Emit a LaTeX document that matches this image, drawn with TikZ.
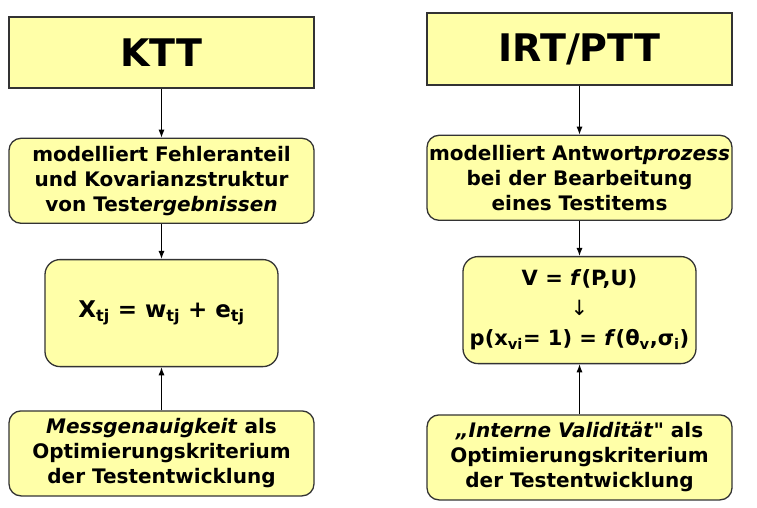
\documentclass[tikz,border=0pt]{standalone}
\usepackage{fontspec}
\setmainfont{DejaVu Sans}
\usetikzlibrary{arrows.meta,positioning}
\definecolor{boxyellow}{HTML}{FFFFA8}
\definecolor{boxline}{HTML}{333333}
\tikzset{
  headbox/.style  = {draw=boxline, line width=1.3pt, fill=boxyellow, minimum width=305pt,
                     minimum height=71pt, inner sep=0pt, font=\fontsize{38}{44}\selectfont\bfseries},
  stepbox/.style  = {draw=boxline, line width=1.3pt, fill=boxyellow, rounded corners=12pt,
                     minimum width=305pt, minimum height=85pt, inner sep=2pt, align=center,
                     font=\fontsize{20}{25}\selectfont\bfseries},
  formbox/.style  = {stepbox, rounded corners=15pt, minimum width=233pt, minimum height=107pt},
  sig/.style      = {-{Latex[length=8pt,width=6pt]}, line width=1pt},
  x=1pt, y=1pt,
}
\begin{document}
\begin{tikzpicture}
  \useasboundingbox (0,0) rectangle (757,-508);
  % KTT column
  \node[headbox] (ktt) at (161.5,-52.5) {KTT};
  \node[stepbox, below=49pt of ktt] (kttmod) {modelliert Fehleranteil\\und Kovarianzstruktur\\von Test\textit{ergebnissen}};
  \node[formbox, below=35pt of kttmod, font=\fontsize{23}{28}\selectfont\bfseries] (kttform) {X\textsubscript{tj} = w\textsubscript{tj} + e\textsubscript{tj}};
  \node[stepbox, below=43pt of kttform] (kttcrit) {\textit{Messgenauigkeit} als\\Optimierungskriterium\\der Testentwicklung};
  \draw[sig] (ktt) -- (kttmod);
  \draw[sig] (kttmod) -- (kttform);
  \draw[sig] (kttcrit) -- (kttform);
  % IRT/PTT column
  \node[headbox, minimum height=72pt] (irt) at (579.5,-49) {IRT/PTT};
  \node[stepbox, below=49pt of irt] (irtmod) {modelliert Antwort\textit{prozess}\\bei der Bearbeitung\\eines Testitems};
  \node[formbox, below=35pt of irtmod, font=\fontsize{21}{30}\selectfont\bfseries] (irtform) {V = \textit{f}(P,U)\\{\mdseries ↓}\\p(x\textsubscript{vi}= 1) = \textit{f}(θ\textsubscript{v},σ\textsubscript{i})};
  \node[stepbox, below=50pt of irtform] (irtcrit) {\textit{„Interne Validität}\textquotedbl{} als\\Optimierungskriterium\\der Testentwicklung};
  \draw[sig] (irt) -- (irtmod);
  \draw[sig] (irtmod) -- (irtform);
  \draw[sig] (irtcrit) -- (irtform);
\end{tikzpicture}
\end{document}
